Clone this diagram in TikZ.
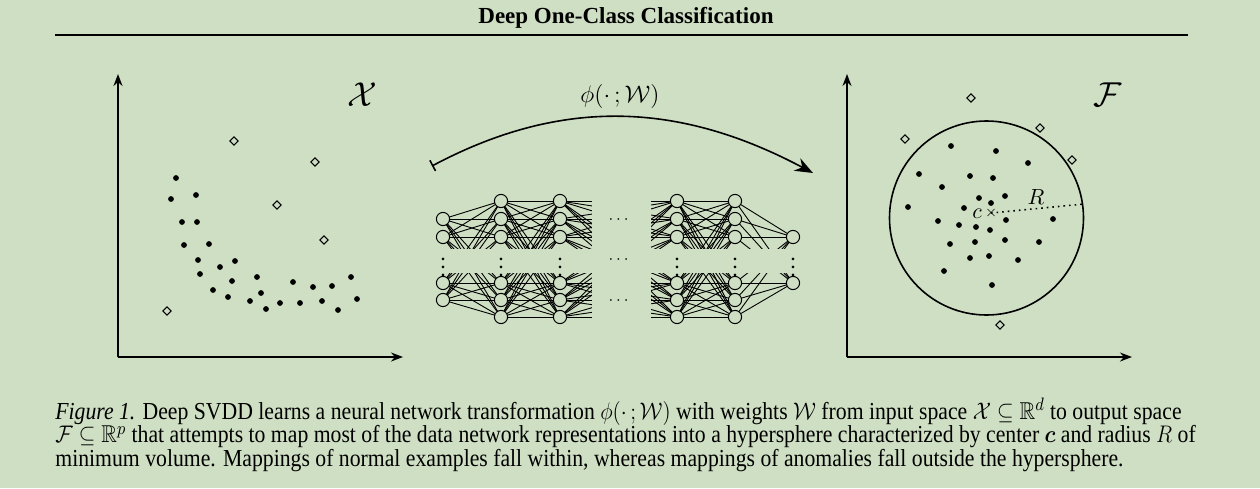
\documentclass[tikz,border=0pt]{standalone}
\usepackage{amsmath,amssymb}
\usepackage{fontspec}
\setmainfont{Liberation Serif}
\usetikzlibrary{arrows.meta,shapes.geometric}
\definecolor{bg}{RGB}{207,223,195}
\tikzset{
 dot/.style={circle,fill=black,inner sep=0pt,minimum size=2.9pt},
 anom/.style={diamond,draw=black,line width=0.5pt,inner sep=0pt,minimum size=4.4pt},
 neuron/.style={circle,draw=black,line width=0.5pt,fill=bg,inner sep=0pt,minimum size=6.6pt},
 axis/.style={line width=0.8pt,-{Stealth[length=6pt,width=4.5pt]}},
 edge/.style={line width=0.45pt},
 vd/.style={font=\bfseries\fontsize{8}{8}\selectfont,inner sep=0pt},
}
\begin{document}
\begin{tikzpicture}[x=0.5pt,y=-0.5pt]
\fill[bg] (0,0) rectangle (1260,488);
\useasboundingbox (0,0) rectangle (1260,488);
% title
\node[font=\bfseries\fontsize{11.5}{13}\selectfont] (title) at (626,18) {Deep One-Class Classification};
\draw[line width=0.9pt] (55,35) -- (1188,35);
% left axes
\coordinate (lo) at (118,357);
\coordinate (ly) at (118,74);
\coordinate (lx) at (403,357);
\draw[axis] (lo) -- (ly);
\draw[axis] (lo) -- (lx);
\node[font=\fontsize{17}{20}\selectfont] (Xl) at (362,95) {$\mathcal{X}$};
\foreach \p [count=\i] in {(176,178),(171,199),(196,195),(182,222),(197,222),(184,245),(209,244),(198,260),(220,267),(235,261),(200,274),(232,281),(257,277),(213,290),(228,297),(250,301),(261,293),(266,309),(280,303),(293,282),(300,303),(313,287),(322,301),(332,286),(338,310),(351,277),(357,299)}
  \node[dot] (ld\i) at \p {};
\foreach \p [count=\i] in {(234,141),(315,162),(277,205),(324,240),(167,311)}
  \node[anom] (la\i) at \p {};
% right axes
\coordinate (ro) at (847,357);
\coordinate (ry) at (847,74);
\coordinate (rx) at (1132,357);
\draw[axis] (ro) -- (ry);
\draw[axis] (ro) -- (rx);
\node[font=\fontsize{17}{20}\selectfont] (Fl) at (1108,95) {$\mathcal{F}$};
\node[circle,draw=black,line width=0.8pt,minimum size=97pt,inner sep=0pt] (sph) at (986.5,218) {};
\foreach \p [count=\i] in {(951,146),(996,151),(1028,163),(919,174),(970,176),(993,178),(942,187),(979,198),(991,203),(1005,196),(908,207),(964,208),(938,221),(959,225),(976,227),(990,230),(1006,220),(1053,219),(950,244),(975,242),(1005,240),(1039,242),(970,258),(989,256),(1018,260),(944,271),(992,285)}
  \node[dot] (rd\i) at \p {};
\foreach \p [count=\i] in {(971,98),(905,139),(1040,128),(1072,160),(1000,325)}
  \node[anom] (ra\i) at \p {};
\node[inner sep=0pt,font=\fontsize{7}{7}\selectfont] (cx) at (991,213) {$\times$};
\node[font=\fontsize{11}{12}\selectfont] (cl) at (977,214) {$c$};
\coordinate (rend) at (1084,204);
\draw[line width=0.8pt,dotted] (cx.center) -- (rend);
\node[font=\fontsize{11}{12}\selectfont] (Rl) at (1036,197) {$R$};
% mapping arc
\coordinate (as) at (432,166);
\coordinate (ae) at (813,173);
\draw[line width=0.8pt,{Bar[width=6pt]}-{Stealth[length=9pt,width=7pt]}] (as) to[out=28,in=152] (ae);
\node[font=\fontsize{11.5}{13}\selectfont] (phil) at (620,96) {$\phi(\cdot\,;\mathcal{W})$};
% network
\def\rowsA{219,237,283,300}
\def\rowsB{201,219,237,283,300,317}
\def\rowsC{237,283}
\foreach \y [count=\j] in \rowsA {\coordinate (n1-\j) at (443,\y);}
\foreach \x [count=\c from 2] in {501,560,677,735} {
  \foreach \y [count=\j] in \rowsB {\coordinate (n\c-\j) at (\x,\y);}}
\foreach \y [count=\j] in \rowsC {\coordinate (n6-\j) at (793,\y);}
\foreach \a in {1,...,4} \foreach \b in {1,...,6} \draw[edge] (n1-\a) -- (n2-\b);
\foreach \c/\d in {2/3,3/4,4/5} \foreach \a in {1,...,6} \foreach \b in {1,...,6} \draw[edge] (n\c-\a) -- (n\d-\b);
\foreach \a in {1,...,6} \foreach \b in {1,2} \draw[edge] (n5-\a) -- (n6-\b);
% gaps
\fill[bg] (430,249) rectangle (810,273);
\fill[bg] (592,190) rectangle (651,330);
\foreach \y [count=\j] in \rowsA {\node[neuron] (m1-\j) at (n1-\j) {};}
\foreach \c in {2,...,5} \foreach \j in {1,...,6} {\node[neuron] (m\c-\j) at (n\c-\j) {};}
\foreach \j in {1,2} {\node[neuron] (m6-\j) at (n6-\j) {};}
\foreach \x [count=\i] in {443,501,560,677,735,793} \node[vd] (vd\i) at (\x,261) {$\vdots$};
\foreach \y [count=\i] in {220,260,301} \node[vd] (hd\i) at (620,\y) {$\cdots$};
% caption
\node[anchor=north west,inner sep=0pt] (cap) at (55,398) {\scalebox{0.89}[1]{\parbox[t]{700pt}{\fontsize{12.2}{11.6}\selectfont\raggedright
\textit{Figure 1.} Deep SVDD learns a neural network transformation $\phi(\cdot\,;\mathcal{W})$ with weights $\mathcal{W}$ from input space $\mathcal{X}\subseteq\mathbb{R}^d$ to output space\\
$\mathcal{F}\subseteq\mathbb{R}^p$ that attempts to map most of the data network representations into a hypersphere characterized by center $\boldsymbol{c}$ and radius $R$ of\\
minimum volume. Mappings of normal examples fall within, whereas mappings of anomalies fall outside the hypersphere.}}};
\end{tikzpicture}
\end{document}
